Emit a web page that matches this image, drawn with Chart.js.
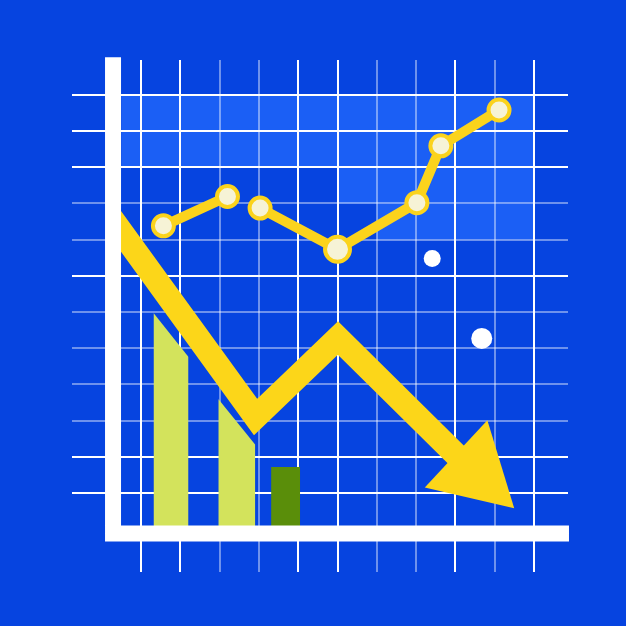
<!DOCTYPE html>
<html>
<head>
<meta charset="utf-8">
<script src="https://cdn.jsdelivr.net/npm/chart.js@4/dist/chart.umd.min.js"></script>
<style>
  html, body { margin: 0; padding: 0; background: #0644e0; }
  #wrap { width: 626px; height: 626px; }
</style>
</head>
<body>
<div id="wrap"><canvas id="chart"></canvas></div>
<script>
// grid positions (one unit = one grid cell)
const gridX = [0, 1, 2, 3, 4, 5, 6, 7, 8, 9, 10];
const gridY = [0, 1, 2, 3, 4, 5, 6, 7, 8, 9, 10, 11];
const brightX = [0, 1, 4, 5, 8, 10];
const brightY = [0, 1, 6, 9, 10, 11];

// lighter cells behind the grid: [x0, x1, y0, y1]
const shadeCells = [[-0.5, 10, 9, 11], [5, 10, 8, 9], [6, 10, 7, 8]];

// rising line with round markers (null = break)
const trendX = [0.57, 2.20, 2.6, 3.03, 5.00, 7.02, 7.63, 9.11];
const trendY = [7.38, 8.19, null, 7.87, 6.73, 8.02, 9.59, 10.58];

// falling arrow
const dropX = [-1.043, 2.916, 5.01, 8.50];
const dropY = [8.025, 2.10, 4.28, 0.54];
const headX = [8.51];
const headY = [0.58];

// bars (slanted tops)
const barLeft = [0.318, 1.967, 3.31];
const barRight = [1.209, 2.908, 4.05];
const barTopLeft = [4.97, 2.60, 0.72];
const barTopRight = [3.76, 1.33, 0.72];
const barBase = -1;

// loose white dots
const dotX = [7.41, 8.67];
const dotY = [6.48, 4.27];

// L shaped axis
const axisX = [-0.712, -0.712, 10.89];
const axisY = [12.04, -1.119, -1.119];

const zip = (xs, ys) => xs.map((x, i) => ({ x: x, y: ys[i] }));

const yellow = "#fcd619";
const faint = "rgba(255,255,255,0.42)";

// paint the lighter cells before the grid
const shadePlugin = {
  id: "shade",
  beforeDraw(chart) {
    const { ctx, scales } = chart;
    ctx.save();
    ctx.fillStyle = "#1b5ff5";
    shadeCells.forEach(c => {
      const x0 = scales.x.getPixelForValue(c[0]);
      const x1 = scales.x.getPixelForValue(c[1]);
      const y0 = scales.y.getPixelForValue(c[2]);
      const y1 = scales.y.getPixelForValue(c[3]);
      ctx.fillRect(x0, y1, x1 - x0, y0 - y1);
    });
    ctx.restore();
  }
};

const barSets = barLeft.map((x0, i) => ({
  data: [{ x: x0, y: barTopLeft[i] }, { x: barRight[i], y: barTopRight[i] }],
  borderWidth: 0,
  pointRadius: 0,
  backgroundColor: i < 2 ? "#d3e35c" : "#5a8e0a",
  fill: { value: barBase },
  order: 6
}));

new Chart(document.getElementById("chart"), {
  type: "line",
  data: {
    datasets: [
      {
        data: zip(axisX, axisY),
        borderColor: "#ffffff",
        borderWidth: 16,
        borderJoinStyle: "miter",
        borderCapStyle: "butt",
        pointRadius: 0,
        clip: false,
        order: 0
      },
      {
        data: zip(headX, headY),
        showLine: false,
        pointStyle: "triangle",
        pointRadius: 53,
        pointRotation: 133,
        pointBackgroundColor: yellow,
        pointBorderWidth: 0,
        order: 1
      },
      {
        data: zip(dropX, dropY),
        borderColor: yellow,
        borderWidth: 24,
        borderJoinStyle: "miter",
        borderCapStyle: "butt",
        pointRadius: 0,
        // cut the arrow off at the inner edge of the axis
        clip: { left: -49, top: false, right: false, bottom: false },
        order: 2
      },
      {
        data: zip(trendX, trendY),
        borderColor: "#fbd31c",
        borderWidth: 10,
        pointRadius: ctx => (ctx.dataIndex === 4 ? 12.5 : 10.5),
        pointBorderWidth: 4,
        pointBorderColor: "#fbd31c",
        pointBackgroundColor: "#f6f3d6",
        order: 3
      },
      {
        data: zip(dotX, dotY),
        showLine: false,
        pointRadius: [8.5, 10.5],
        pointBorderWidth: 0,
        pointBackgroundColor: "#ffffff",
        order: 4
      },
      ...barSets
    ]
  },
  options: {
    responsive: true,
    maintainAspectRatio: false,
    animation: false,
    events: [],
    layout: { padding: { left: 72, right: 58, top: 60, bottom: 54 } },
    plugins: { legend: { display: false }, tooltip: { enabled: false } },
    scales: {
      x: {
        type: "linear",
        min: -1.756,
        max: 10.865,
        afterBuildTicks: axis => { axis.ticks = gridX.map(v => ({ value: v })); },
        ticks: { display: false },
        border: { display: false },
        grid: {
          drawTicks: false,
          lineWidth: 2,
          color: ctx => (ctx.tick && brightX.includes(ctx.tick.value) ? "#ffffff" : faint)
        }
      },
      y: {
        type: "linear",
        min: -2.182,
        max: 11.961,
        afterBuildTicks: axis => { axis.ticks = gridY.map(v => ({ value: v })); },
        ticks: { display: false },
        border: { display: false },
        grid: {
          drawTicks: false,
          lineWidth: 2,
          color: ctx => (ctx.tick && brightY.includes(ctx.tick.value) ? "#ffffff" : faint)
        }
      }
    }
  },
  plugins: [shadePlugin]
});
</script>
</body>
</html>
